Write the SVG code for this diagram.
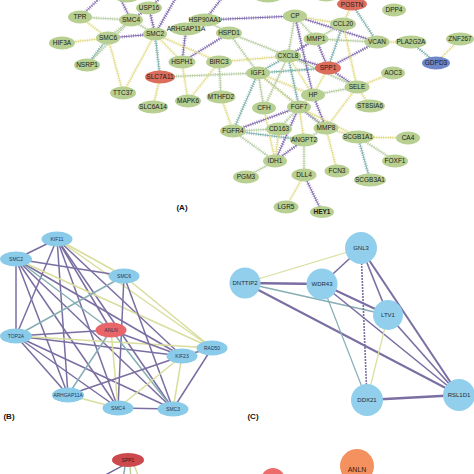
<svg xmlns="http://www.w3.org/2000/svg" xmlns:xlink="http://www.w3.org/1999/xlink" width="474" height="474" viewBox="0 0 474 474">
<style>
text{font-family:"Liberation Sans",Arial,sans-serif;text-anchor:middle}
.na ellipse{fill:#b7cf91}
.na text{font-size:6.5px;fill:#1c1c1c}
.red ellipse{fill:#dc6d5c}
.blu ellipse{fill:#6f86c9}
.y{stroke:#e3dc8a}
.s{stroke:#b4cc9e}
.t{stroke:#76aea8}
.p{stroke:#7a62aa}
.nb ellipse{fill:#8acbea}
.nb text{font-size:5px;fill:#2a3550}
.nc circle{fill:#91cfec}
.nc text{font-size:6px;fill:#1f2d40}
.bp{stroke:#6c5f98}
.by{stroke:#d6da92}
.bt{stroke:#7aa6ae}
.lab{font-size:8px;font-weight:bold;fill:#111}
</style>
<defs>
<g id="ea" fill="none">
<line x1="80" y1="17" x2="108" y2="38" class="y"/>
<line x1="80" y1="17" x2="131" y2="20" class="s"/>
<line x1="80" y1="17" x2="104" y2="-6" class="p"/>
<line x1="62" y1="43" x2="108" y2="38" class="y"/>
<line x1="108" y1="38" x2="155" y2="34" class="p"/>
<line x1="108" y1="38" x2="87" y2="65" class="t"/>
<line x1="131" y1="20" x2="87" y2="65" class="s"/>
<line x1="108" y1="38" x2="123" y2="93" class="y"/>
<line x1="108" y1="38" x2="131" y2="20" class="s"/>
<line x1="131" y1="20" x2="155" y2="34" class="s"/>
<line x1="131" y1="20" x2="149" y2="8" class="p"/>
<line x1="131" y1="20" x2="118" y2="-6" class="p"/>
<line x1="149" y1="8" x2="165" y2="-6" class="p"/>
<line x1="155" y1="34" x2="123" y2="93" class="y"/>
<line x1="155" y1="34" x2="160" y2="77" class="t"/>
<line x1="155" y1="34" x2="182" y2="62" class="y"/>
<line x1="155" y1="34" x2="149" y2="8" class="p"/>
<line x1="155" y1="34" x2="178" y2="-6" class="p"/>
<line x1="186" y1="29" x2="182" y2="62" class="p"/>
<line x1="229" y1="33" x2="182" y2="62" class="p"/>
<line x1="205" y1="20" x2="229" y2="33" class="s"/>
<line x1="205" y1="20" x2="225" y2="-6" class="p"/>
<line x1="205" y1="20" x2="295" y2="16" class="p"/>
<line x1="155" y1="34" x2="219" y2="62" class="y"/>
<line x1="160" y1="77" x2="258" y2="73" class="s"/>
<line x1="160" y1="77" x2="153" y2="107" class="y"/>
<line x1="188" y1="101" x2="182" y2="62" class="y"/>
<line x1="188" y1="101" x2="219" y2="62" class="y"/>
<line x1="219" y1="62" x2="221" y2="97" class="s"/>
<line x1="221" y1="97" x2="233" y2="131" class="y"/>
<line x1="258" y1="73" x2="233" y2="131" class="t"/>
<line x1="258" y1="73" x2="288" y2="56" class="t"/>
<line x1="258" y1="73" x2="328" y2="68" class="t"/>
<line x1="258" y1="73" x2="313" y2="95" class="y"/>
<line x1="288" y1="56" x2="316" y2="39" class="p"/>
<line x1="288" y1="56" x2="328" y2="68" class="p"/>
<line x1="288" y1="56" x2="295" y2="16" class="s"/>
<line x1="288" y1="56" x2="229" y2="33" class="s"/>
<line x1="288" y1="56" x2="219" y2="62" class="y"/>
<line x1="288" y1="56" x2="299" y2="107" class="t"/>
<line x1="288" y1="56" x2="264" y2="108" class="s"/>
<line x1="295" y1="16" x2="316" y2="39" class="s"/>
<line x1="295" y1="16" x2="343" y2="24" class="y"/>
<line x1="295" y1="16" x2="377" y2="42" class="p"/>
<line x1="295" y1="16" x2="313" y2="95" class="p"/>
<line x1="316" y1="39" x2="377" y2="42" class="s"/>
<line x1="316" y1="39" x2="328" y2="68" class="p"/>
<line x1="343" y1="24" x2="328" y2="68" class="t"/>
<line x1="343" y1="24" x2="316" y2="39" class="s"/>
<line x1="352" y1="4" x2="377" y2="42" class="t"/>
<line x1="352" y1="4" x2="343" y2="24" class="y"/>
<line x1="328" y1="68" x2="377" y2="42" class="p"/>
<line x1="328" y1="68" x2="357" y2="87" class="p"/>
<line x1="328" y1="68" x2="313" y2="95" class="y"/>
<line x1="377" y1="42" x2="411" y2="42" class="y"/>
<line x1="411" y1="42" x2="436" y2="63" class="t"/>
<line x1="460" y1="39" x2="436" y2="63" class="y"/>
<line x1="357" y1="87" x2="393" y2="73" class="y"/>
<line x1="357" y1="87" x2="313" y2="95" class="s"/>
<line x1="357" y1="87" x2="288" y2="56" class="s"/>
<line x1="357" y1="87" x2="326" y2="128" class="y"/>
<line x1="313" y1="95" x2="299" y2="107" class="y"/>
<line x1="313" y1="95" x2="326" y2="128" class="p"/>
<line x1="313" y1="95" x2="288" y2="56" class="y"/>
<line x1="233" y1="131" x2="299" y2="107" class="p"/>
<line x1="233" y1="131" x2="304" y2="140" class="t"/>
<line x1="233" y1="131" x2="275" y2="161" class="s"/>
<line x1="233" y1="131" x2="279" y2="129" class="s"/>
<line x1="275" y1="161" x2="304" y2="140" class="p"/>
<line x1="275" y1="161" x2="299" y2="107" class="p"/>
<line x1="275" y1="161" x2="279" y2="129" class="y"/>
<line x1="275" y1="161" x2="246" y2="177" class="s"/>
<line x1="275" y1="161" x2="264" y2="108" class="y"/>
<line x1="304" y1="140" x2="304" y2="175" class="s"/>
<line x1="304" y1="140" x2="299" y2="107" class="y"/>
<line x1="304" y1="140" x2="326" y2="128" class="s"/>
<line x1="304" y1="175" x2="286" y2="207" class="y"/>
<line x1="304" y1="175" x2="322" y2="212" class="p"/>
<line x1="326" y1="128" x2="337" y2="171" class="y"/>
<line x1="326" y1="128" x2="299" y2="107" class="p"/>
<line x1="326" y1="128" x2="358" y2="137" class="y"/>
<line x1="358" y1="137" x2="408" y2="138" class="y"/>
<line x1="358" y1="137" x2="395" y2="161" class="s"/>
<line x1="358" y1="137" x2="370" y2="180" class="t"/>
<line x1="358" y1="137" x2="299" y2="107" class="y"/>
<line x1="279" y1="129" x2="299" y2="107" class="s"/>
<line x1="258" y1="73" x2="299" y2="107" class="y"/>
<line x1="264" y1="108" x2="258" y2="73" class="s"/>
<line x1="258" y1="73" x2="326" y2="128" class="s"/>
<line x1="357" y1="87" x2="343" y2="24" class="y"/>
<line x1="370" y1="106" x2="357" y2="87" class="y"/>
<line x1="258" y1="73" x2="229" y2="33" class="s"/>
</g>
</defs>

<g id="connectors">
<use xlink:href="#ea" stroke-width="3.4" stroke-dasharray="0.7 1.6" opacity="0.85"/>
<use xlink:href="#ea" stroke-width="0.9"/>
<g id="edges-b" fill="none" stroke-width="1.5" opacity="0.9">
<line x1="57" y1="239" x2="16" y2="259" class="bp"/>
<line x1="57" y1="239" x2="124" y2="276" class="by"/>
<line x1="57" y1="239" x2="212" y2="348" class="by"/>
<line x1="57" y1="239" x2="16" y2="336" class="bp"/>
<line x1="57" y1="239" x2="111" y2="330" class="bp"/>
<line x1="57" y1="239" x2="182" y2="356" class="bp"/>
<line x1="57" y1="239" x2="68" y2="395" class="bp"/>
<line x1="57" y1="239" x2="118" y2="408" class="bp"/>
<line x1="57" y1="239" x2="173" y2="409" class="bp"/>
<line x1="16" y1="259" x2="124" y2="276" class="bp"/>
<line x1="16" y1="259" x2="16" y2="336" class="bp"/>
<line x1="16" y1="259" x2="111" y2="330" class="bt"/>
<line x1="16" y1="259" x2="182" y2="356" class="bp"/>
<line x1="16" y1="259" x2="212" y2="348" class="by"/>
<line x1="16" y1="259" x2="68" y2="395" class="bp"/>
<line x1="16" y1="259" x2="118" y2="408" class="bp"/>
<line x1="16" y1="259" x2="173" y2="409" class="bp"/>
<line x1="124" y1="276" x2="16" y2="336" class="bt"/>
<line x1="124" y1="276" x2="212" y2="348" class="by"/>
<line x1="124" y1="276" x2="118" y2="408" class="bp"/>
<line x1="124" y1="276" x2="173" y2="409" class="bp"/>
<line x1="16" y1="336" x2="111" y2="330" class="bp"/>
<line x1="16" y1="336" x2="182" y2="356" class="bp"/>
<line x1="16" y1="336" x2="212" y2="348" class="by"/>
<line x1="16" y1="336" x2="68" y2="395" class="bp"/>
<line x1="16" y1="336" x2="118" y2="408" class="bp"/>
<line x1="16" y1="336" x2="173" y2="409" class="bp"/>
<line x1="111" y1="330" x2="182" y2="356" class="bp"/>
<line x1="111" y1="330" x2="118" y2="408" class="by"/>
<line x1="111" y1="330" x2="68" y2="395" class="bt"/>
<line x1="111" y1="330" x2="173" y2="409" class="bt"/>
<line x1="182" y1="356" x2="212" y2="348" class="bp"/>
<line x1="182" y1="356" x2="68" y2="395" class="bp"/>
<line x1="182" y1="356" x2="118" y2="408" class="by"/>
<line x1="182" y1="356" x2="173" y2="409" class="by"/>
<line x1="212" y1="348" x2="173" y2="409" class="bp"/>
<line x1="68" y1="395" x2="118" y2="408" class="by"/>
<line x1="118" y1="408" x2="173" y2="409" class="bp"/>
</g>
<g id="edges-c" fill="none" opacity="0.9">
<line x1="361" y1="248" x2="245" y2="283" class="by" stroke-width="1.2"/>
<line x1="245" y1="283" x2="322" y2="284" class="bp" stroke-width="2.6"/>
<line x1="245" y1="283" x2="388" y2="315" class="bt" stroke-width="1.6"/>
<line x1="245" y1="283" x2="459" y2="395" class="bp" stroke-width="2"/>
<line x1="322" y1="284" x2="361" y2="248" class="bp" stroke-width="1.6"/>
<line x1="322" y1="284" x2="388" y2="315" class="bp" stroke-width="2"/>
<line x1="322" y1="284" x2="459" y2="395" class="bp" stroke-width="1.6"/>
<line x1="322" y1="284" x2="367" y2="400" class="bt" stroke-width="1.2"/>
<line x1="361" y1="248" x2="367" y2="400" class="bp" stroke-width="1.6" stroke-dasharray="2 1"/>
<line x1="361" y1="248" x2="388" y2="315" class="bp" stroke-width="1.6"/>
<line x1="361" y1="248" x2="459" y2="395" class="bp" stroke-width="2"/>
<line x1="388" y1="315" x2="367" y2="400" class="by" stroke-width="1.2"/>
<line x1="388" y1="315" x2="459" y2="395" class="bp" stroke-width="1.6"/>
<line x1="367" y1="400" x2="459" y2="395" class="bp" stroke-width="2.6"/>
</g>
<g id="edges-d" fill="none" stroke-width="1.4">
<line x1="124" y1="465" x2="96" y2="480" class="bp"/>
<line x1="125" y1="466" x2="123" y2="480" class="bt"/>
<line x1="130" y1="466" x2="131" y2="480" class="s"/>
<line x1="134" y1="465" x2="140" y2="480" class="by"/>
</g>
</g>

<g id="nodes-a">
<g id="n-top1" class="na"><ellipse cx="127" cy="-4" rx="13" ry="6.5"/></g>
<g id="n-top2" class="na"><ellipse cx="268" cy="-4" rx="15" ry="6.5"/></g>
<g id="n-top3" class="na"><ellipse cx="326" cy="-5" rx="13" ry="6.5"/></g>
<g id="n-postn" class="na red"><ellipse cx="352" cy="4" rx="15" ry="6.5"/><text x="352" y="6.5">POSTN</text></g>
<g id="n-tpr" class="na"><ellipse cx="80" cy="17" rx="12" ry="6.5"/><text x="80" y="19.3">TPR</text></g>
<g id="n-hif3a" class="na"><ellipse cx="62" cy="43" rx="13" ry="6.5"/><text x="62" y="45.3">HIF3A</text></g>
<g id="n-smc6" class="na"><ellipse cx="108" cy="38" rx="12" ry="6.5"/><text x="108" y="40.3">SMC6</text></g>
<g id="n-smc4" class="na"><ellipse cx="131" cy="20" rx="12" ry="6.5"/><text x="131" y="22.3">SMC4</text></g>
<g id="n-usp16" class="na"><ellipse cx="149" cy="8" rx="13" ry="6.5"/><text x="149" y="10.3">USP16</text></g>
<g id="n-smc2" class="na"><ellipse cx="155" cy="34" rx="12" ry="6.5"/><text x="155" y="36.3">SMC2</text></g>
<g id="n-arhgap11a" class="na"><ellipse cx="186" cy="29" rx="16" ry="6.5"/><text x="186" y="31.3">ARHGAP11A</text></g>
<g id="n-hsp90aa1" class="na"><ellipse cx="205" cy="20" rx="16" ry="6.5"/><text x="205" y="22.3">HSP90AA1</text></g>
<g id="n-hspd1" class="na"><ellipse cx="229" cy="33" rx="13" ry="6.5"/><text x="229" y="35.3">HSPD1</text></g>
<g id="n-nsrp1" class="na"><ellipse cx="87" cy="65" rx="13" ry="6.5"/><text x="87" y="67.3">NSRP1</text></g>
<g id="n-hsph1" class="na"><ellipse cx="182" cy="62" rx="13.5" ry="6.5"/><text x="182" y="64.3">HSPH1</text></g>
<g id="n-birc3" class="na"><ellipse cx="219" cy="62" rx="13" ry="6.5"/><text x="219" y="64.3">BIRC3</text></g>
<g id="n-slc7a11" class="na red"><ellipse cx="160" cy="77" rx="15" ry="6.5"/><text x="160" y="79.3">SLC7A11</text></g>
<g id="n-ttc37" class="na"><ellipse cx="123" cy="93" rx="13" ry="6.5"/><text x="123" y="95.3">TTC37</text></g>
<g id="n-slc6a14" class="na"><ellipse cx="153" cy="107" rx="15" ry="6.5"/><text x="153" y="109.3">SLC6A14</text></g>
<g id="n-mapk6" class="na"><ellipse cx="188" cy="101" rx="13" ry="6.5"/><text x="188" y="103.3">MAPK6</text></g>
<g id="n-mthfd2" class="na"><ellipse cx="221" cy="97" rx="14.5" ry="6.5"/><text x="221" y="99.3">MTHFD2</text></g>
<g id="n-cp" class="na"><ellipse cx="295" cy="16" rx="12" ry="6.5"/><text x="295" y="18.3">CP</text></g>
<g id="n-dpp4" class="na"><ellipse cx="394" cy="10" rx="12" ry="6.5"/><text x="394" y="12.3">DPP4</text></g>
<g id="n-ccl20" class="na"><ellipse cx="343" cy="24" rx="13" ry="6.5"/><text x="343" y="26.3">CCL20</text></g>
<g id="n-mmp1" class="na"><ellipse cx="316" cy="39" rx="12.5" ry="6.5"/><text x="316" y="41.3">MMP1</text></g>
<g id="n-vcan" class="na"><ellipse cx="377" cy="42" rx="12.5" ry="6.5"/><text x="377" y="44.3">VCAN</text></g>
<g id="n-pla2g2a" class="na"><ellipse cx="411" cy="42" rx="15.5" ry="6.5"/><text x="411" y="44.3">PLA2G2A</text></g>
<g id="n-znf267" class="na"><ellipse cx="460" cy="39" rx="14" ry="6.5"/><text x="460" y="41.3">ZNF267</text></g>
<g id="n-gdpd3" class="na blu"><ellipse cx="436" cy="63" rx="14" ry="6.5"/><text x="436" y="65.3">GDPD3</text></g>
<g id="n-cxcl8" class="na"><ellipse cx="288" cy="56" rx="13" ry="6.5"/><text x="288" y="58.3">CXCL8</text></g>
<g id="n-spp1" class="na red"><ellipse cx="328" cy="68" rx="13" ry="6.5"/><text x="328" y="70.3">SPP1</text></g>
<g id="n-aoc3" class="na"><ellipse cx="393" cy="73" rx="12" ry="6.5"/><text x="393" y="75.3">AOC3</text></g>
<g id="n-igf1" class="na"><ellipse cx="258" cy="73" rx="12" ry="6.5"/><text x="258" y="75.3">IGF1</text></g>
<g id="n-sele" class="na"><ellipse cx="357" cy="87" rx="12.5" ry="6.5"/><text x="357" y="89.3">SELE</text></g>
<g id="n-hp" class="na"><ellipse cx="313" cy="95" rx="12" ry="6.5"/><text x="313" y="97.3">HP</text></g>
<g id="n-st8sia6" class="na"><ellipse cx="370" cy="106" rx="15" ry="6.5"/><text x="370" y="108.3">ST8SIA6</text></g>
<g id="n-cfh" class="na"><ellipse cx="264" cy="108" rx="12" ry="6.5"/><text x="264" y="110.3">CFH</text></g>
<g id="n-fgf7" class="na"><ellipse cx="299" cy="107" rx="12" ry="6.5"/><text x="299" y="109.3">FGF7</text></g>
<g id="n-fgfr4" class="na"><ellipse cx="233" cy="131" rx="13" ry="6.5"/><text x="233" y="133.3">FGFR4</text></g>
<g id="n-cd163" class="na"><ellipse cx="279" cy="129" rx="13" ry="6.5"/><text x="279" y="131.3">CD163</text></g>
<g id="n-mmp8" class="na"><ellipse cx="326" cy="128" rx="12.5" ry="6.5"/><text x="326" y="130.3">MMP8</text></g>
<g id="n-angpt2" class="na"><ellipse cx="304" cy="140" rx="14" ry="6.5"/><text x="304" y="142.3">ANGPT2</text></g>
<g id="n-scgb1a1" class="na"><ellipse cx="358" cy="137" rx="16" ry="6.5"/><text x="358" y="139.3">SCGB1A1</text></g>
<g id="n-ca4" class="na"><ellipse cx="408" cy="138" rx="12" ry="6.5"/><text x="408" y="140.3">CA4</text></g>
<g id="n-idh1" class="na"><ellipse cx="275" cy="161" rx="12" ry="6.5"/><text x="275" y="163.3">IDH1</text></g>
<g id="n-foxf1" class="na"><ellipse cx="395" cy="161" rx="13" ry="6.5"/><text x="395" y="163.3">FOXF1</text></g>
<g id="n-fcn3" class="na"><ellipse cx="337" cy="171" rx="12.5" ry="6.5"/><text x="337" y="173.3">FCN3</text></g>
<g id="n-scgb3a1" class="na"><ellipse cx="370" cy="180" rx="16" ry="6.5"/><text x="370" y="182.3">SCGB3A1</text></g>
<g id="n-pgm3" class="na"><ellipse cx="246" cy="177" rx="13" ry="6.5"/><text x="246" y="179.3">PGM3</text></g>
<g id="n-dll4" class="na"><ellipse cx="304" cy="175" rx="12.5" ry="6.5"/><text x="304" y="177.3">DLL4</text></g>
<g id="n-lgr5" class="na"><ellipse cx="286" cy="207" rx="12.5" ry="6.5"/><text x="286" y="209.3">LGR5</text></g>
<g id="n-hey1" class="na"><ellipse cx="322" cy="212" rx="12" ry="6"/><text x="322" y="214.3" font-weight="bold">HEY1</text></g>
</g>

<g id="nodes-b">
<g id="b-kif11" class="nb"><ellipse cx="57" cy="239" rx="15.5" ry="7.5"/><text x="57" y="240.8">KIF11</text></g>
<g id="b-smc2" class="nb"><ellipse cx="16" cy="259" rx="16" ry="7.5"/><text x="16" y="260.8">SMC2</text></g>
<g id="b-smc6" class="nb"><ellipse cx="124" cy="276" rx="15.5" ry="7.5"/><text x="124" y="277.8">SMC6</text></g>
<g id="b-top2a" class="nb"><ellipse cx="16" cy="336" rx="16" ry="7.5"/><text x="16" y="337.8">TOP2A</text></g>
<g id="b-anln" class="nb"><ellipse cx="111" cy="330" rx="15.5" ry="7.5" style="fill:#e8666a"/><text x="111" y="331.8">ANLN</text></g>
<g id="b-rad50" class="nb"><ellipse cx="212" cy="348" rx="15.5" ry="7.5"/><text x="212" y="349.8">RAD50</text></g>
<g id="b-kif23" class="nb"><ellipse cx="182" cy="356" rx="15.5" ry="7.5"/><text x="182" y="357.8">KIF23</text></g>
<g id="b-arhgap11a" class="nb"><ellipse cx="68" cy="395" rx="16" ry="7.5"/><text x="68" y="396.8">ARHGAP11A</text></g>
<g id="b-smc4" class="nb"><ellipse cx="118" cy="408" rx="15.5" ry="7.5"/><text x="118" y="409.8">SMC4</text></g>
<g id="b-smc3" class="nb"><ellipse cx="173" cy="409" rx="15.5" ry="7.5"/><text x="173" y="410.8">SMC3</text></g>
</g>

<g id="nodes-c">
<g id="c-gnl3" class="nc"><circle cx="361" cy="248" r="16"/><text x="361" y="250">GNL3</text></g>
<g id="c-dnttip2" class="nc"><circle cx="245" cy="283" r="15.5"/><text x="245" y="285">DNTTIP2</text></g>
<g id="c-wdr43" class="nc"><circle cx="322" cy="284" r="15.5"/><text x="322" y="286">WDR43</text></g>
<g id="c-ltv1" class="nc"><circle cx="388" cy="315" r="15"/><text x="388" y="317">LTV1</text></g>
<g id="c-ddx21" class="nc"><circle cx="367" cy="400" r="16"/><text x="367" y="402">DDX21</text></g>
<g id="c-rsl1d1" class="nc"><circle cx="459" cy="395" r="16"/><text x="459" y="397">RSL1D1</text></g>
</g>

<g id="nodes-d">
<g id="d-spp1"><ellipse cx="128" cy="460" rx="16" ry="7" fill="#cc4a4d"/><text x="128" y="461.8" style="font-size:5px;fill:#3a1515">SPP1</text></g>
<g id="d-red"><circle cx="273" cy="480" r="12" fill="#ec6b6b"/></g>
<g id="d-anln"><circle cx="357" cy="466" r="17" fill="#f4915e"/><text x="357" y="472" style="font-size:7px;fill:#3a2010">ANLN</text></g>
</g>

<g id="labels">
<text class="lab" x="182" y="210">(A)</text>
<text class="lab" x="9" y="419">(B)</text>
<text class="lab" x="253" y="419">(C)</text>
</g>
</svg>
